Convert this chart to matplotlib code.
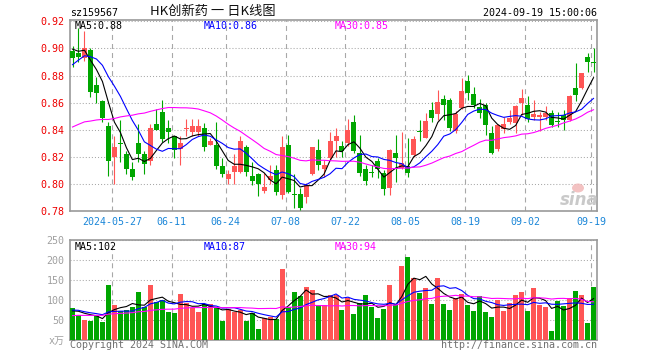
import numpy as np
import pandas as pd
import matplotlib
matplotlib.use('Agg')
import matplotlib.pyplot as plt
from matplotlib.patches import Ellipse

plt.rcParams['lines.scale_dashes'] = False
plt.rcParams['font.family'] = ['DejaVu Sans Mono', 'Noto Sans CJK SC']

# ---------------- data ----------------
holidays = ['2024-06-10', '2024-09-16', '2024-09-17']
days = [d for d in pd.bdate_range('2024-05-16', '2024-09-19')
        if d.strftime('%Y-%m-%d') not in holidays]

tick_dates = ['2024-05-27', '2024-06-11', '2024-06-24', '2024-07-08', '2024-07-22',
              '2024-08-05', '2024-08-19', '2024-09-02', '2024-09-19']
tick_labels = ['2024-05-27', '06-11', '06-24', '07-08', '07-22',
               '08-05', '08-19', '09-02', '09-19']

opens = [0.898, 0.897, 0.893, 0.899, 0.873, 0.861, 0.843, 0.820, 0.8302, 0.822,
         0.811, 0.830, 0.822, 0.817, 0.844, 0.853, 0.841, 0.835, 0.826, 0.8405,
         0.838, 0.838, 0.841, 0.829, 0.829, 0.813, 0.8035, 0.809, 0.809, 0.827,
         0.806, 0.807, 0.795, 0.803, 0.810, 0.792, 0.829, 0.7918, 0.7925, 0.790,
         0.807, 0.825, 0.811, 0.819, 0.832, 0.828, 0.830, 0.846, 0.8225, 0.811,
         0.8083, 0.817, 0.808, 0.797, 0.8225, 0.812, 0.813, 0.821, 0.839, 0.834,
         0.8545, 0.8515, 0.8626, 0.8618, 0.8392, 0.8559, 0.8756, 0.8663, 0.8565, 0.8579,
         0.8373, 0.8255, 0.8404, 0.8458, 0.8446, 0.8599, 0.8582, 0.8491, 0.8495, 0.8491,
         0.852, 0.8459, 0.8508, 0.8471, 0.8705, 0.8705, 0.8934, 0.8898]
closes = [0.893, 0.894, 0.900, 0.868, 0.867, 0.849, 0.817, 0.827, 0.8298, 0.811,
          0.805, 0.822, 0.815, 0.841, 0.840, 0.833, 0.838, 0.825, 0.830, 0.841,
          0.843, 0.843, 0.827, 0.832, 0.813, 0.8075, 0.807, 0.813, 0.832, 0.809,
          0.802, 0.800, 0.798, 0.806, 0.794, 0.827, 0.794, 0.7916, 0.782, 0.799,
          0.827, 0.814, 0.814, 0.832, 0.835, 0.824, 0.840, 0.8245, 0.808, 0.802,
          0.8081, 0.811, 0.796, 0.825, 0.819, 0.8156, 0.808, 0.833, 0.838, 0.8466,
          0.849, 0.8604, 0.8579, 0.8412, 0.8515, 0.8683, 0.867, 0.8579, 0.8523, 0.8432,
          0.8225, 0.8434, 0.8441, 0.8483, 0.8574, 0.8631, 0.8476, 0.8515, 0.8505, 0.8524,
          0.8434, 0.8457, 0.8471, 0.8648, 0.8656, 0.882, 0.8901, 0.8896]
highs = [0.902, 0.915, 0.913, 0.900, 0.879, 0.862, 0.846, 0.835, 0.847, 0.824,
         0.816, 0.844, 0.824, 0.844, 0.855, 0.862, 0.847, 0.835, 0.835, 0.848,
         0.848, 0.848, 0.845, 0.834, 0.846, 0.819, 0.810, 0.822, 0.835, 0.829,
         0.816, 0.808, 0.808, 0.814, 0.814, 0.835, 0.836, 0.807, 0.797, 0.801,
         0.8275, 0.833, 0.818, 0.8385, 0.841, 0.832, 0.848, 0.851, 0.836, 0.814,
         0.814, 0.819, 0.810, 0.826, 0.836, 0.8385, 0.834, 0.835, 0.847, 0.852,
         0.8605, 0.8692, 0.8658, 0.8633, 0.854, 0.8781, 0.8805, 0.8712, 0.8626, 0.8599,
         0.8428, 0.8441, 0.8491, 0.8542, 0.8582, 0.8697, 0.8648, 0.8619, 0.8531, 0.8577,
         0.8549, 0.853, 0.8545, 0.8655, 0.8894, 0.882, 0.8963, 0.900]
lows = [0.886, 0.890, 0.891, 0.864, 0.860, 0.846, 0.806, 0.800, 0.816, 0.807,
        0.803, 0.816, 0.807, 0.814, 0.840, 0.831, 0.830, 0.819, 0.814, 0.835,
        0.835, 0.835, 0.824, 0.8285, 0.811, 0.805, 0.800, 0.800, 0.808, 0.806,
        0.799, 0.791, 0.793, 0.800, 0.792, 0.7885, 0.793, 0.782, 0.7807, 0.786,
        0.8065, 0.810, 0.805, 0.8176, 0.820, 0.820, 0.828, 0.8225, 0.806, 0.799,
        0.805, 0.804, 0.792, 0.792, 0.8016, 0.811, 0.805, 0.820, 0.832, 0.8336,
        0.8454, 0.8469, 0.8469, 0.8388, 0.8375, 0.8553, 0.8618, 0.8559, 0.8484, 0.8358,
        0.822, 0.8246, 0.8375, 0.8441, 0.8375, 0.8507, 0.8458, 0.8471, 0.8392, 0.8471,
        0.8417, 0.8417, 0.8397, 0.8466, 0.8614, 0.8697, 0.8827, 0.8824]
volumes = [80.8, 62.5, 50, 48.3, 60.8, 45.8, 137.5, 87.5, 72.5, 75,
           83.3, 120.8, 83.3, 137.5, 94, 100, 69, 66.7, 115, 91.7,
           79, 70.8, 89, 89, 79, 48.3, 76.7, 69, 75, 48.3,
           66.7, 27.5, 54, 58, 51.7, 177.5, 83.3, 120.8, 110.8, 133.3,
           125, 87.5, 87.5, 112.5, 112.5, 75, 105.8, 65.8, 91.7, 112.5,
           83.3, 55.8, 77.5, 137.5, 87.5, 185.8, 208.3, 154, 118.3, 129,
           90, 154, 90, 75, 104, 114, 87.5, 72.5, 110, 70.8,
           58, 100, 72.5, 93, 112.5, 120.8, 72.5, 130, 86.7, 83.3,
           22.5, 97.5, 85, 105.8, 122.5, 112.5, 43.3, 133.3]

# estimated values from the 29 sessions before the window (only feed the moving averages)
prior_closes = [0.835, 0.845, 0.850, 0.843, 0.837, 0.818, 0.805, 0.795, 0.790, 0.788,
                0.792, 0.798, 0.803, 0.808, 0.803, 0.815, 0.826, 0.835, 0.842, 0.852,
                0.860, 0.868, 0.875, 0.884, 0.8955, 0.902, 0.896, 0.905, 0.9015]
prior_volumes = [45, 52, 48, 55, 50, 47, 53, 49, 51, 50,
                 55, 62, 58, 54, 60, 57, 63, 56, 59, 56,
                 70, 85, 75, 82, 73, 68, 75, 66, 75]

price_legend = ['MA5:0.88', 'MA10:0.86', 'MA30:0.85']
vol_legend = ['MA5:102', 'MA10:87', 'MA30:94']

# ---------------- styling ----------------
W, H = 660, 360
RED = '#ff5555'
GREEN = '#00a600'
MA_COLORS = ['#000000', '#0000ff', '#ff00ff']
FRAME = '#9a9a9a'
GRID = '#a8a8a8'

n = len(closes)
x = np.arange(n)
bw = 0.835
xc = x + bw / 2

o = np.array(opens); c = np.array(closes); h = np.array(highs); l = np.array(lows)
v = np.array(volumes)
up = c > o
cols = np.where(up, RED, GREEN)

cs = pd.Series(list(prior_closes) + list(closes))
vs = pd.Series(list(prior_volumes) + list(volumes))
p_ma = [cs.rolling(k).mean().values[-n:] for k in (5, 10, 30)]
v_ma = [vs.rolling(k).mean().values[-n:] for k in (5, 10, 30)]

day_str = [d.strftime('%Y-%m-%d') for d in days]
tick_idx = [day_str.index(t) for t in tick_dates]


def box(l_, t_, r_, b_):
    return [l_ / W, 1 - b_ / H, (r_ - l_) / W, (b_ - t_) / H]


fig = plt.figure(figsize=(W / 100, H / 100), dpi=100)
ax = fig.add_axes(box(70, 20, 597, 211))
axv = fig.add_axes(box(70, 240, 597, 340))

for a in (ax, axv):
    a.set_xlim(0, n)
    for s in a.spines.values():
        s.set_color(FRAME)
        s.set_linewidth(1.2)
    a.set_xticks(tick_idx)
    a.grid(axis='x', color=GRID, linestyle=(0, (3.6, 2.9)), linewidth=0.8)
    a.grid(axis='y', color=GRID, linestyle=(0, (0.75, 1.45)), linewidth=0.75)
    a.set_axisbelow(True)
    a.tick_params(length=0)

# ----- price panel -----
ax.set_ylim(0.78, 0.921)
yt = np.round(np.arange(0.78, 0.921, 0.02), 2)
ax.set_yticks(yt)
ax.set_yticklabels([f'{t:.2f}' for t in yt], color='#ee0000', fontsize=7.2)
ax.tick_params(axis='y', pad=4)
ax.set_xticklabels(tick_labels, color='#1a86d8', fontsize=7.2)
ax.tick_params(axis='x', pad=4)

body_h = np.maximum(np.abs(c - o), 0.0006)
ax.vlines(xc, l, h, colors=cols, linewidth=0.8, zorder=3)
ax.bar(x, body_h, bottom=np.minimum(o, c), width=bw, align='edge',
       color=cols, linewidth=0, zorder=4)
for m, col in zip(p_ma, MA_COLORS):
    ax.plot(xc, m, color=col, linewidth=0.8, zorder=5)

# ----- volume panel -----
axv.set_ylim(0, 250)
axv.set_yticks([0, 50, 100, 150, 200, 250])
axv.set_yticklabels(['x万', '50', '100', '150', '200', '250'], color='#a0a0a0', fontsize=7.2)
axv.tick_params(axis='y', pad=4)
axv.set_xticklabels([])
axv.bar(x, v, width=bw, align='edge', color=cols, linewidth=0, zorder=3)
for m, col in zip(v_ma, MA_COLORS):
    axv.plot(xc, m, color=col, linewidth=0.8, zorder=5)

# ----- texts -----
def ftext(px, py, s, **kw):
    fig.text(px / W, 1 - py / H, s, **kw)

ftext(70, 13, 'sz159567', ha='left', va='center', fontsize=7.2, color='#000000')
ftext(213, 11, 'HK创新药 一 日K线图', ha='center', va='center', fontsize=9.5,
      color='#111111', family=['Noto Sans CJK SC', 'DejaVu Sans'])
ftext(597, 13, '2024-09-19 15:00:06', ha='right', va='center', fontsize=7.2, color='#000000')

for px, s, col in zip((75, 204, 335), price_legend, MA_COLORS):
    ftext(px, 26, s, ha='left', va='center', fontsize=7.2, color=col)
for px, s, col in zip((75, 204, 335), vol_legend, MA_COLORS):
    ftext(px, 247, s, ha='left', va='center', fontsize=7.2, color=col)

ftext(70, 345.5, 'Copyright 2024 SINA.COM', ha='left', va='center', fontsize=7.2, color='#707070')
ftext(597, 345.5, 'http://finance.sina.com.cn', ha='right', va='center', fontsize=7.2, color='#707070')

# sina watermark (eye logo drawn as a patch, word as text)
fig.patches.append(Ellipse((578 / W, 1 - 188 / H), 12 / W, 9 / H,
                           transform=fig.transFigure, facecolor='#f2b8b8',
                           edgecolor='none', alpha=0.85, zorder=6))
ftext(579, 200, 'sina', ha='center', va='center', fontsize=12, fontweight='bold',
      style='italic', color='#c4c4c4', family='DejaVu Sans', alpha=0.9, zorder=7)

fig.savefig('out.png', dpi=100)
